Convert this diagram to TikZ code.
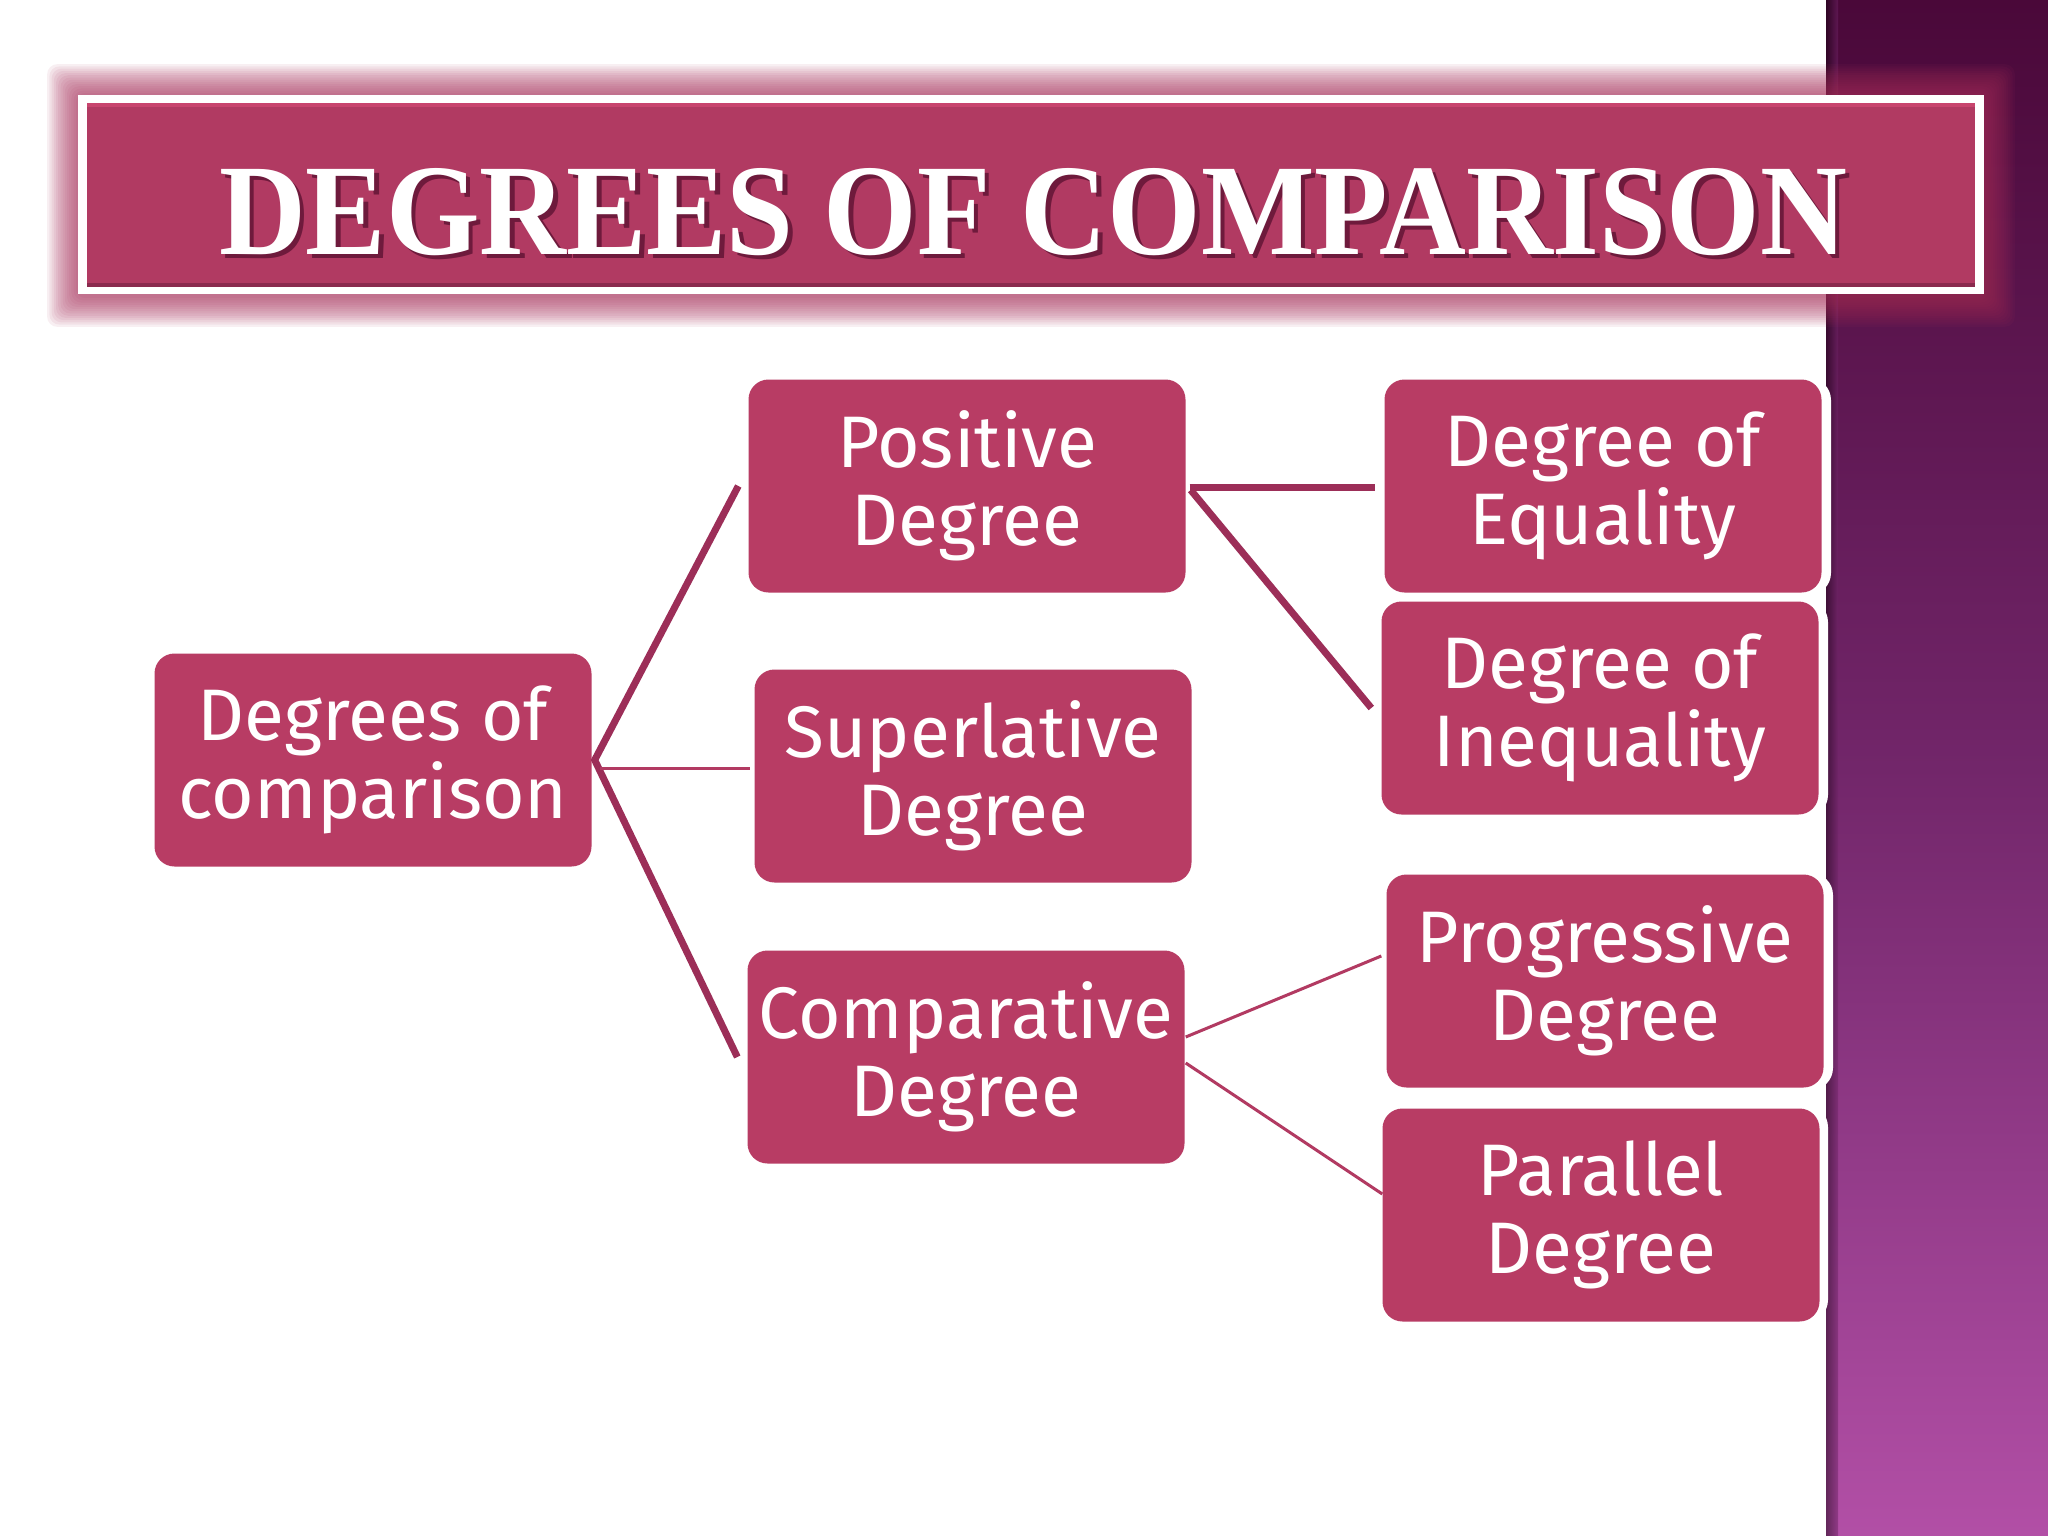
\documentclass[tikz,border=0pt]{standalone}
\usepackage{fontspec}
\setmainfont{Fira Sans}
\newfontfamily\titlefont{Liberation Serif}
\usetikzlibrary{calc}
\definecolor{boxfill}{HTML}{B83C64}
\definecolor{thickc}{HTML}{9C2E58}
\definecolor{thinc}{HTML}{B23A62}
\definecolor{bandA}{HTML}{4A0839}
\definecolor{bandB}{HTML}{72266A}
\definecolor{bandC}{HTML}{B24FA6}
\definecolor{titlefill}{HTML}{B13A62}
\definecolor{titlehi}{HTML}{C8456E}
\definecolor{titlelo}{HTML}{8A2A4E}
\definecolor{titleglow}{HTML}{A8305A}
\definecolor{titleshadow}{HTML}{6E1A3C}
\newcommand{\titletext}{DEGREES OF COMPARISON}
\tikzset{
  degbox/.style={fill=boxfill, rounded corners=20pt, minimum width=437pt,
    minimum height=213pt, align=center, text=white, inner sep=0pt,
    font=\fontsize{73}{78}\selectfont},
  rimbox/.style={fill=white, rounded corners=22pt},
  thickline/.style={draw=thickc, line width=7pt},
  thinline/.style={draw=thinc, line width=3pt},
}
\begin{document}
\begin{tikzpicture}[x=1pt,y=-1pt]
\useasboundingbox (0,0) rectangle (2048,1536);
\fill[white] (0,0) rectangle (2048,1536);
% purple band
\shade[top color=bandA, bottom color=bandC, middle color=bandB] (1826,0) rectangle (2048,1536);
\shade[left color=black!70!bandA, right color=bandB, opacity=0.5] (1826,0) rectangle (1838,1536);
% title glow
\foreach \i in {1,...,14} {
  \fill[titleglow, opacity=0.075, rounded corners=10pt] (78-\i*2.2, 95-\i*2.2) rectangle (1984+\i*2.2, 296+\i*2.2);
}
% title box
\fill[white] (78,95) rectangle (1984,294);
\fill[titlefill] (87,103) rectangle (1975,287);
\fill[titlehi] (87,103) rectangle (1975,107);
\fill[titlelo] (87,283) rectangle (1975,287);
\node[anchor=base, text=white, inner sep=0pt, xscale=0.925,
  font=\titlefont\bfseries\fontsize{130}{130}\selectfont] (title) at (1033,254)
  {\rlap{\kern5pt\raisebox{-4pt}{\textcolor{titleshadow}{\titletext}}}\titletext};
% white rims on the right column
\fill[rimbox] (1390,378) rectangle (1831,595);
\fill[rimbox] (1388,600) rectangle (1828,817);
\fill[rimbox] (1393,873) rectangle (1833,1090);
\fill[rimbox] (1388,1105) rectangle (1828,1322);
% nodes
\node[degbox] (root) at (373,760) {Degrees of\\comparison};
\node[degbox] (pos)  at (967,486) {Positive\\Degree};
\node[degbox] (sup)  at (973,776) {Superlative\\Degree};
\node[degbox] (comp) at (966,1057) {Comparative\\Degree};
\node[degbox] (eq)   at (1603,486) {Degree of\\Equality};
\node[degbox] (ineq) at (1600,708) {Degree of\\Inequality};
\node[degbox] (prog) at (1605,981) {Progressive\\Degree};
\node[degbox] (par)  at (1601,1215) {Parallel\\Degree};
% connectors
\draw[thickline, line join=miter] ($(pos.west)+(-10,0)$) -- ($(root.east)+(3,0)$) -- ($(comp.west)+(-10,0)$);
\draw[thinline] ($(root.east)+(8,8)$) -- ($(sup.west)+(-4,-8)$);
\draw[thickline] ($(pos.east)+(4,1)$) -- ($(eq.west)+(-9,1)$);
\draw[thickline] ($(pos.east)+(5,4)$) -- ($(ineq.west)+(-10,0)$);
\draw[thinline] ($(comp.east)+(1,-20)$) -- ($(prog.west)+(-5,-25)$);
\draw[thinline] ($(comp.east)+(1,6)$) -- ($(par.west)+(0,-21)$);
\end{tikzpicture}
\end{document}
